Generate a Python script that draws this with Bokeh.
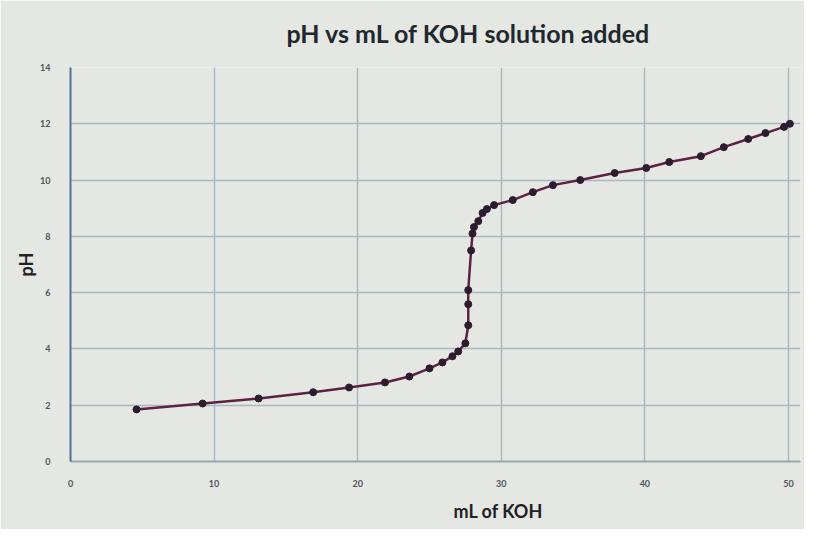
from bokeh.plotting import figure
from bokeh.models import Range1d, FixedTicker, Title
from bokeh.embed import file_html
from bokeh.resources import INLINE

ml_koh = [4.6, 9.2, 13.1, 16.9, 19.4, 21.9, 23.6, 25.0, 25.9, 26.6, 27.0, 27.5,
          27.7, 27.7, 27.7, 27.9, 28.0, 28.1, 28.4, 28.7, 29.0, 29.5, 30.8, 32.2,
          33.6, 35.5, 37.9, 40.1, 41.7, 43.9, 45.5, 47.2, 48.4, 49.7, 50.1]
ph = [1.85, 2.06, 2.24, 2.46, 2.63, 2.81, 3.02, 3.31, 3.52, 3.74, 3.91, 4.2,
      4.84, 5.59, 6.09, 7.5, 8.1, 8.33, 8.54, 8.83, 8.97, 9.11, 9.29, 9.57,
      9.82, 10.0, 10.25, 10.43, 10.64, 10.85, 11.17, 11.46, 11.67, 11.89, 12.0]
x_ticks = [0, 10, 20, 30, 40, 50]
y_ticks = [0, 2, 4, 6, 8, 10, 12, 14]

bg = "#e4e7e2"
p = figure(width=804, height=529, output_backend="svg", toolbar_location=None,
           x_range=Range1d(0, 50.84), y_range=Range1d(0, 14),
           min_border_left=70, min_border_right=4, min_border_top=67, min_border_bottom=68,
           background_fill_color=bg, border_fill_color=bg,
           title="pH vs mL of KOH solution added")
p.outline_line_color = None
p.title.align = "left"
p.title.vertical_align = "top"
p.title.offset = 216
p.title.text_font = "Lato"
p.title.text_font_style = "bold"
p.title.text_font_size = "25px"
p.title.text_color = "#1f282f"
p.title.standoff = 35

p.xaxis.ticker = FixedTicker(ticks=x_ticks)
p.yaxis.ticker = FixedTicker(ticks=y_ticks)
for ax in (p.xaxis, p.yaxis):
    ax.major_tick_line_color = None
    ax.minor_tick_line_color = None
    ax.major_label_text_font = "Lato"
    ax.major_label_text_font_style = "bold"
    ax.major_label_text_font_size = "9px"
    ax.major_label_text_color = "#50565b"
    ax.axis_label_text_font = "Lato"
    ax.axis_label_text_font_style = "bold"
    ax.axis_label_text_color = "#1f2224"
p.xaxis.major_label_standoff = 12
p.yaxis.major_label_standoff = 14
p.yaxis.axis_label = "pH"
p.yaxis.axis_label_text_font_size = "18px"
p.yaxis.axis_label_standoff = 0
p.yaxis.axis_line_color = "#56708f"
p.yaxis.axis_line_width = 2
p.xaxis.axis_line_color = "#9aa6ad"
p.xaxis.axis_line_width = 2

xlab = Title(text="mL of KOH", align="left", offset=383, standoff=16,
             text_font="Lato", text_font_style="bold", text_font_size="18px",
             text_color="#1f2224")
p.add_layout(xlab, "below")

p.xgrid.ticker = FixedTicker(ticks=x_ticks)
p.ygrid.ticker = FixedTicker(ticks=y_ticks)
p.grid.grid_line_color = "#a8b9c2"
p.grid.grid_line_width = 1.5

p.line(ml_koh, ph, line_color="#5e2142", line_width=2.5)
p.scatter(ml_koh, ph, size=7, fill_color="#2b1c2e", line_color="#2b1c2e")

open("out.html", "w").write(file_html(p, INLINE))
